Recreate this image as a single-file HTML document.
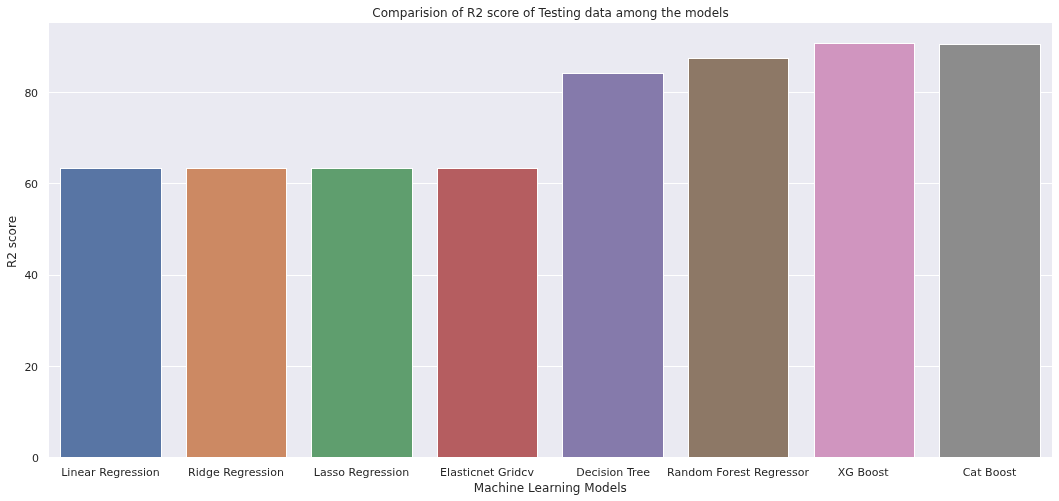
<!DOCTYPE html>
<html><head><meta charset="utf-8"><title>R2 score comparison</title>
<style>
html,body{margin:0;padding:0;background:#fff;}
body{width:1059px;height:501px;position:relative;overflow:hidden;font-family:"DejaVu Sans","Liberation Sans",sans-serif;color:#262626;}
#plot{position:absolute;left:49px;top:23px;width:1003px;height:434px;background:#eaeaf2;overflow:hidden;}
.g{position:absolute;left:0;width:1003px;height:1px;background:#fff;}
.b{position:absolute;box-sizing:border-box;border:1px solid #fff;border-bottom:none;}
.t{position:absolute;white-space:nowrap;line-height:1;}
.xt{font-size:11px;top:467px;transform:translateX(-50%);letter-spacing:0.05px;}
.yt{font-size:11px;right:1021.4px;letter-spacing:-0.5px;}
.lab{font-size:12px;}
</style></head><body>
<div id="plot">
 <div class="g" style="top:69px"></div>
 <div class="g" style="top:160px"></div>
 <div class="g" style="top:252px"></div>
 <div class="g" style="top:343px"></div>
 <div class="b" style="left:11px;width:102px;top:145px;height:289px;background:#5875a4"></div>
 <div class="b" style="left:137px;width:101px;top:145px;height:289px;background:#cc8963"></div>
 <div class="b" style="left:262px;width:102px;top:145px;height:289px;background:#5f9e6e"></div>
 <div class="b" style="left:388px;width:101px;top:145px;height:289px;background:#b55d60"></div>
 <div class="b" style="left:513px;width:102px;top:50px;height:384px;background:#857aab"></div>
 <div class="b" style="left:639px;width:101px;top:35px;height:399px;background:#8d7866"></div>
 <div class="b" style="left:765px;width:101px;top:20px;height:414px;background:#d095bf"></div>
 <div class="b" style="left:890px;width:102px;top:21px;height:413px;background:#8c8c8c"></div>
</div>
<div class="t lab" id="title" style="left:550.5px;top:7px;letter-spacing:0.027px;transform:translateX(-50%)">Comparision of R2 score of Testing data among the models</div>
<div class="t yt" style="top:453px;right:1020px;letter-spacing:0">0</div>
<div class="t yt" style="top:362px">20</div>
<div class="t yt" style="top:270px">40</div>
<div class="t yt" style="top:179px">60</div>
<div class="t yt" style="top:88px">80</div>
<div class="t xt" style="left:110.5px">Linear Regression</div>
<div class="t xt" style="left:236px">Ridge Regression</div>
<div class="t xt" style="left:361.5px">Lasso Regression</div>
<div class="t xt" style="left:487px">Elasticnet Gridcv</div>
<div class="t xt" style="left:613.1px">Decision Tree</div>
<div class="t xt" style="left:738px">Random Forest Regressor</div>
<div class="t xt" style="left:863.2px">XG Boost</div>
<div class="t xt" style="left:989.5px">Cat Boost</div>
<div class="t lab" id="xlabel" style="left:550.3px;top:482px;letter-spacing:0.037px;transform:translateX(-50%)">Machine Learning Models</div>
<div class="t lab" id="ylabel" style="left:12px;top:242px;transform:translate(-50%,-50%) rotate(-90deg)">R2 score</div>
</body></html>
